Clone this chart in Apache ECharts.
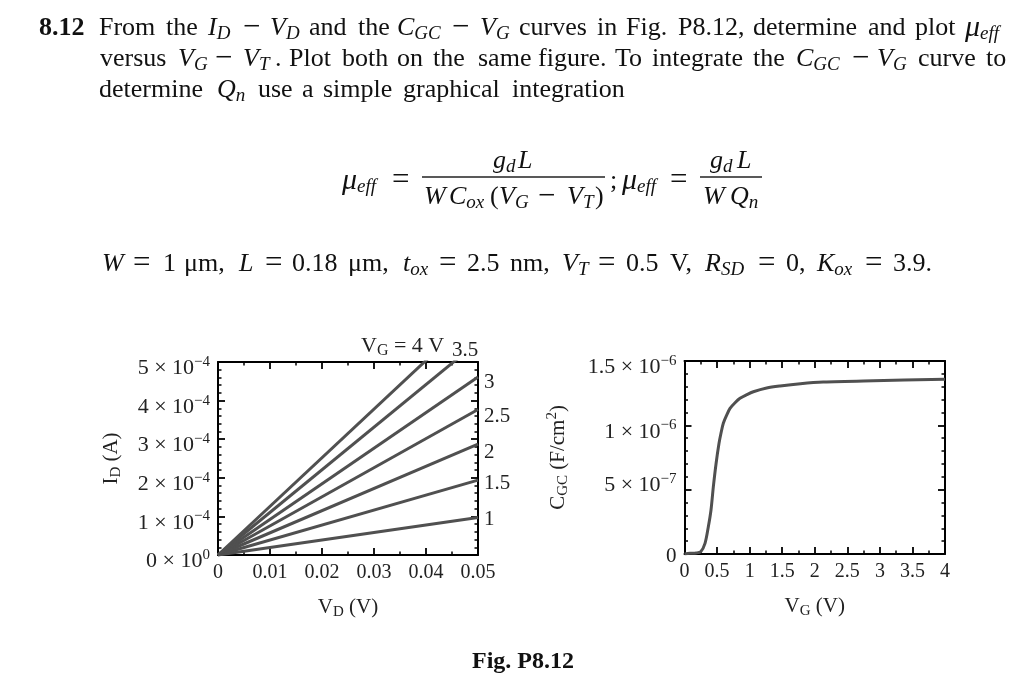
<!DOCTYPE html>
<html>
<head>
<meta charset="UTF-8">
<title>Fig. P8.12</title>
<style>html,body{margin:0;padding:0;background:#fff}#chart{width:1024px;height:681px}</style>
<script src="https://cdn.jsdelivr.net/npm/echarts@6/dist/echarts.min.js"></script>
</head>
<body>
<div id="chart"></div>
<script>
// ID-VD lines, drain current at VD = 0.05 V for each gate voltage
var vdValues = [0, 0.05];
var vgNames = ['1', '1.5', '2', '2.5', '3', '3.5', '4'];
var idAtEnd = [0.97e-4, 1.94e-4, 2.87e-4, 3.77e-4, 4.61e-4, 5.52e-4, 6.3e-4];

// CGC-VG curve
var vgValues = [0, 0.084, 0.18, 0.249, 0.315, 0.366, 0.407, 0.443, 0.484, 0.53, 0.56, 0.596, 0.648, 0.699, 0.776, 0.852, 0.955, 1.057, 1.262, 1.467, 1.78, 2.13, 2.9, 4];
var cgcValues = [0, 0.005e-6, 0.008e-6, 0.018e-6, 0.083e-6, 0.212e-6, 0.342e-6, 0.523e-6, 0.7e-6, 0.86e-6, 0.938e-6, 1.016e-6, 1.08e-6, 1.132e-6, 1.176e-6, 1.21e-6, 1.238e-6, 1.261e-6, 1.29e-6, 1.306e-6, 1.324e-6, 1.337e-6, 1.347e-6, 1.358e-6];

// tick labels
var idTicks = ['{t|0 × 10}{p|0}', '{t|1 × 10}{p|−4}', '{t|2 × 10}{p|−4}', '{t|3 × 10}{p|−4}', '{t|4 × 10}{p|−4}', '{t|5 × 10}{p|−4}'];
var vdTicks = ['0', '0.01', '0.02', '0.03', '0.04', '0.05'];
var cgcTicks = ['{z|0}', '{m|5 × 10}{q|−7}', '{t|1 × 10}{p|−6}', '{t|1.5 × 10}{p|−6}'];
var vgTicks = ['0', '0.5', '1', '1.5', '2', '2.5', '3', '3.5', '4'];

var serif = '"Liberation Serif", serif';
var rich = {
	r: {fontFamily: serif, fontSize: 26},
	i: {fontFamily: serif, fontSize: 26, fontStyle: 'italic'},
	u: {fontFamily: serif, fontSize: 30, fontStyle: 'italic'},
	o: {fontFamily: serif, fontSize: 31},
	s: {fontFamily: serif, fontSize: 19, fontStyle: 'italic', padding: [11, 0, 0, 0]}
};
var plotRich = {
	n: {fontFamily: serif, fontSize: 21, color: '#222'},
	t: {fontFamily: serif, fontSize: 22, color: '#222'},
	p: {fontFamily: serif, fontSize: 15, color: '#222', padding: [0, 0, 13, 0]},
	m: {fontFamily: serif, fontSize: 22, color: '#222', padding: [0, 0, 22, 0]},
	q: {fontFamily: serif, fontSize: 15, color: '#222', padding: [0, 0, 35, 0]},
	z: {fontFamily: serif, fontSize: 21, color: '#222', padding: [0, 0, 9, 0]},
	d: {fontFamily: serif, fontSize: 15, color: '#222', padding: [10, 0, 0, 0]}
};

var minus = '{o|−}', equal = '{o|=}', mu = '{u|μ}{s|eff}';
var line1 = [[99,'From'],[166,'the'],[208,'{i|I}{s|D}'],[243,minus],[270,'{i|V}{s|D}'],[309,'and'],[358,'the'],[397,'{i|C}{s|GC}'],[452,minus],[480,'{i|V}{s|G}'],[519,'curves'],[597,'in'],[626,'Fig.'],[678,'P8.12,'],[753,'determine'],[868,'and'],[915,'plot'],[965,mu]];
var line2 = [[100,'versus'],[178,'{i|V}{s|G}'],[215,minus],[243,'{i|V}{s|T}'],[275,'.'],[289,'Plot'],[342,'both'],[397,'on'],[433,'the'],[478,'same'],[538,'figure.'],[615,'To'],[652,'integrate'],[753,'the'],[796,'{i|C}{s|GC}'],[852,minus],[877,'{i|V}{s|G}'],[918,'curve'],[986,'to']];
var line3 = [[99,'determine'],[217,'{i|Q}{s|n}'],[258,'use'],[302,'a'],[323,'simple'],[403,'graphical'],[512,'integration']];
var line4 = [[102,'{i|W}'],[133,equal],[163,'1'],[184,'μm,'],[239,'{i|L}'],[265,equal],[292,'0.18'],[348,'μm,'],[403,'{i|t}{s|ox}'],[439,equal],[467,'2.5'],[510,'nm,'],[562,'{i|V}{s|T}'],[598,equal],[626,'0.5'],[670,'V,'],[705,'{i|R}{s|SD}'],[758,equal],[786,'0,'],[817,'{i|K}{s|ox}'],[865,equal],[893,'3.9.']];
var formula = [[342,181,mu],[392,181,equal],[493,161,'{i|g}{s|d}'],[518,161,'{i|L}'],[424,197,'{i|W}'],[449,197,'{i|C}{s|ox}'],[490,197,'('],[499,197,'{i|V}{s|G}'],[538,197,minus],[567,197,'{i|V}{s|T}'],[595,197,')'],[610,181,';'],[622,181,mu],[670,181,equal],[710,161,'{i|g}{s|d}'],[737,161,'{i|L}'],[703,197,'{i|W}'],[730,197,'{i|Q}{s|n}']];

function txt(x, y, str, extra) {
	var st = {text: str, rich: rich, fontFamily: serif, fontSize: 26, fill: '#111', align: 'left', verticalAlign: 'middle'};
	for (var k in extra) st[k] = extra[k];
	return {type: 'text', x: x, y: y, style: st, silent: true};
}
function words(list, y) {
	return list.map(function (w) { return txt(w[0], y, w[1]); });
}
function rule(x1, x2, y) {
	return {type: 'line', shape: {x1: x1, y1: y, x2: x2, y2: y}, style: {stroke: '#222', lineWidth: 1.5}, silent: true};
}

var texts = [txt(39, 28, '8.12', {fontWeight: 'bold'})]
	.concat(words(line1, 28), words(line2, 59), words(line3, 90), words(line4, 264))
	.concat(formula.map(function (f) { return txt(f[0], f[1], f[2]); }))
	.concat([rule(422, 605, 177), rule(700, 762, 177)]);

// curve labels next to the plot
var plotText = {rich: {n: {fontFamily: serif, fontSize: 22}, d: {fontFamily: serif, fontSize: 16, padding: [10, 0, 0, 0]}}, fontFamily: serif, fontSize: 21, fill: '#222'};
var labelPos = [[484, 519], [484, 483], [484, 452], [484, 416], [484, 382], [452, 350]];
labelPos.forEach(function (p, i) {
	texts.push(txt(p[0], p[1], vgNames[i], plotText));
});
texts.push(txt(361, 346, '{n|V}{d|G}{n| = 4 V}', plotText));
texts.push(txt(472, 662, 'Fig. P8.12', {fontWeight: 'bold', fontSize: 24, fill: '#111'}));

var minorLine = {color: '#000', width: 1.5};
function frameAxis(extra) {
	var a = {
		type: 'value',
		axisLine: {onZero: false, lineStyle: {color: '#000', width: 2}},
		axisTick: {inside: true, length: 7, lineStyle: {color: '#000', width: 1.8}},
		minorTick: {show: true, length: 3.5, lineStyle: minorLine},
		splitLine: {show: false},
		axisLabel: {show: false}
	};
	for (var k in extra) a[k] = extra[k];
	return a;
}
function tickLabel(list, margin, padding) {
	return {show: true, margin: margin, padding: padding, rich: plotRich, fontFamily: serif, fontSize: 20, color: '#222',
		formatter: function (v, i) { return list[i]; }};
}
function nameStyle() {
	return {fontFamily: serif, fontSize: 21, color: '#222', rich: plotRich};
}

var xLeft = {min: 0, max: 0.05, interval: 0.01};
var yLeft = {min: 0, max: 5e-4, interval: 1e-4};
var xRight = {min: 0, max: 4, interval: 0.5};
var yRight = {min: 0, max: 1.5e-6, interval: 5e-7};
var halfTick = {show: true, splitNumber: 2, length: 3.5, lineStyle: minorLine};

var series = vgNames.map(function (name, i) {
	return {
		type: 'line', name: name, xAxisIndex: 0, yAxisIndex: 0, showSymbol: false, symbol: 'none',
		lineStyle: {color: '#505050', width: 3},
		data: [[vdValues[0], 0], [vdValues[1], idAtEnd[i]]]
	};
});
series.push({
	type: 'line', name: 'CGC', xAxisIndex: 2, yAxisIndex: 2, showSymbol: false, symbol: 'none', smooth: 0.3,
	lineStyle: {color: '#505050', width: 3},
	data: vgValues.map(function (v, i) { return [v, cgcValues[i]]; })
});

var chart = echarts.init(document.getElementById('chart'), null, {renderer: 'canvas'});
chart.setOption({
	animation: false,
	backgroundColor: '#fff',
	grid: [
		{left: 218, top: 362, width: 260, height: 193},
		{left: 684.5, top: 361, width: 260.5, height: 193}
	],
	xAxis: [
		frameAxis(Object.assign({gridIndex: 0, position: 'bottom', minorTick: halfTick,
			axisLabel: tickLabel(vdTicks, 8, [0, 0, 0, 0]), name: '{n|V}{d|D}{n| (V)}', nameLocation: 'middle', nameGap: 40, nameTextStyle: nameStyle()}, xLeft)),
		frameAxis(Object.assign({gridIndex: 0, position: 'top', minorTick: halfTick}, xLeft)),
		frameAxis(Object.assign({gridIndex: 1, position: 'bottom', minorTick: halfTick,
			axisLabel: tickLabel(vgTicks, 8, [0, 0, 0, 0]), name: '{n|V}{d|G}{n| (V)}', nameLocation: 'middle', nameGap: 40, nameTextStyle: nameStyle()}, xRight)),
		frameAxis(Object.assign({gridIndex: 1, position: 'top', minorTick: halfTick}, xRight))
	],
	yAxis: [
		frameAxis(Object.assign({gridIndex: 0, position: 'left', axisLabel: tickLabel(idTicks, 8, [13, 0, 0, 0]),
			name: '{n|I}{d|D}{n| (A)}', nameLocation: 'middle', nameRotate: 90, nameGap: 94, nameTextStyle: nameStyle()}, yLeft)),
		frameAxis(Object.assign({gridIndex: 0, position: 'right'}, yLeft)),
		frameAxis(Object.assign({gridIndex: 1, position: 'left', axisLabel: tickLabel(cgcTicks, 8, [13, 0, 0, 0]),
			name: '{n|C}{d|GC}{n| (F/cm}{p|2}{n|)}', nameLocation: 'middle', nameRotate: 90, nameGap: 112, nameTextStyle: nameStyle()}, yRight)),
		frameAxis(Object.assign({gridIndex: 1, position: 'right'}, yRight))
	],
	series: series,
	graphic: {elements: texts}
});
</script>
</body>
</html>
